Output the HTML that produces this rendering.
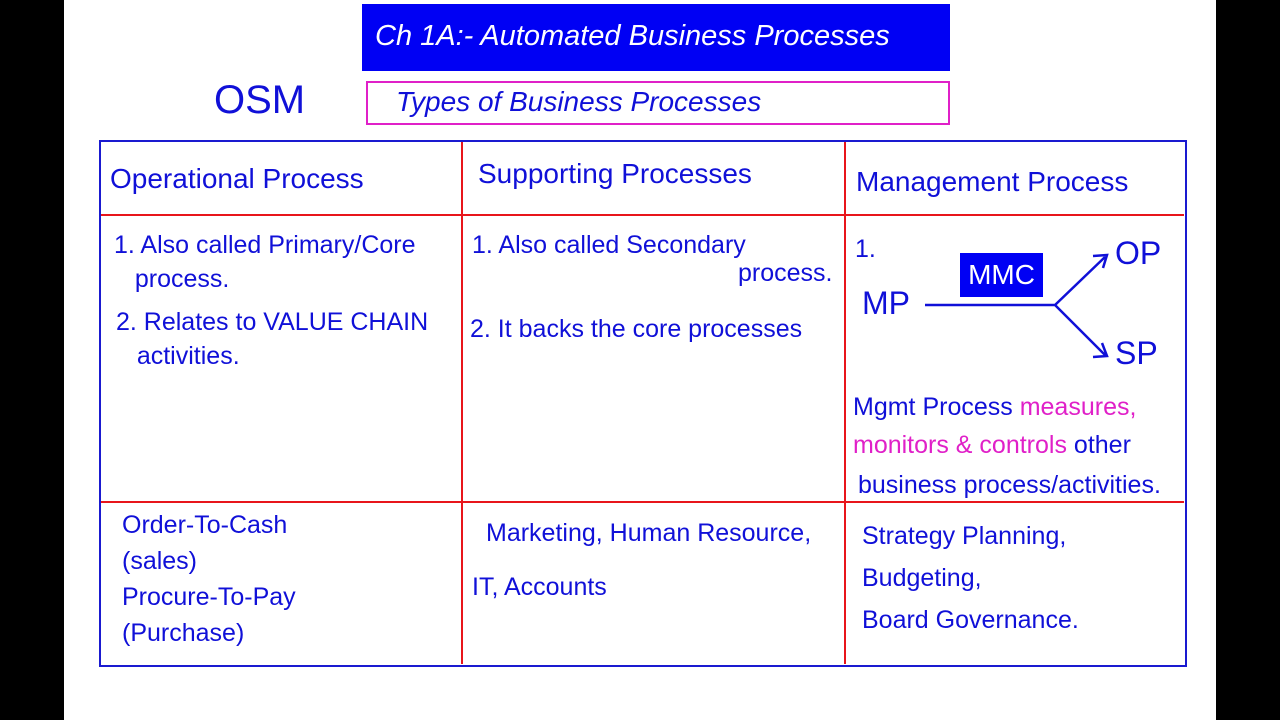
<!DOCTYPE html>
<html><head><meta charset="utf-8"><style>
body{margin:0;width:1280px;height:720px;background:#fff;position:relative;overflow:hidden;font-family:"Liberation Sans",sans-serif;color:#1010d8}
.a{position:absolute;white-space:nowrap}
.hl{position:absolute;background:#e8151b;height:2px}
.vl{position:absolute;background:#e8151b;width:2px}
.t{font-size:25px;line-height:34px}
.m{color:#e020c8}
</style></head><body>
<div class="a" style="left:0;top:0;width:64px;height:720px;background:#000"></div>
<div class="a" style="left:1216px;top:0;width:64px;height:720px;background:#000"></div>
<div class="a" style="left:362px;top:4px;width:588px;height:67px;background:#0000f4"></div>
<div class="a" style="left:375px;top:20px;font-size:29px;color:#fff;font-style:italic">Ch 1A:- Automated Business Processes</div>
<div class="a" style="left:366px;top:81px;width:580px;height:40px;border:2px solid #e020c8"></div>
<div class="a" style="left:396px;top:86px;font-size:28px;font-style:italic">Types of Business Processes</div>
<div class="a" style="left:214px;top:78px;font-size:40px">OSM</div>
<div class="a" style="left:99px;top:140px;width:1084px;height:523px;border:2px solid #1a1ad0"></div>
<div class="hl" style="left:101px;top:214px;width:1083px"></div>
<div class="hl" style="left:101px;top:501px;width:1083px"></div>
<div class="vl" style="left:461px;top:142px;height:522px"></div>
<div class="vl" style="left:844px;top:142px;height:522px"></div>
<div class="a" style="left:110px;top:163px;font-size:28px">Operational Process</div>
<div class="a" style="left:478px;top:158px;font-size:28px">Supporting Processes</div>
<div class="a" style="left:856px;top:166px;font-size:28px">Management Process</div>
<div class="a t" style="left:114px;top:228px">1. Also called Primary/Core<br>&nbsp;&nbsp;&nbsp;process.</div>
<div class="a t" style="left:116px;top:305px">2. Relates to VALUE CHAIN<br>&nbsp;&nbsp;&nbsp;activities.</div>
<div class="a t" style="left:472px;top:228px">1. Also called Secondary</div>
<div class="a t" style="left:738px;top:256px">process.</div>
<div class="a t" style="left:470px;top:312px">2. It backs the core processes</div>
<div class="a t" style="left:855px;top:232px">1.</div>
<div class="a" style="left:862px;top:285px;font-size:32px">MP</div>
<div class="a" style="left:960px;top:253px;width:83px;height:44px;background:#0000f4;color:#fff;font-size:28px;text-align:center;line-height:44px">MMC</div>
<svg class="a" style="left:0;top:0" width="1280" height="720"><g stroke="#1010d8" stroke-width="2.5" fill="none"><path d="M925 305 L1055 305 L1105 257 M1093 256 L1107 255 L1103 268 M1055 305 L1105 355 M1093 357 L1107 356 L1102 343"/></g></svg>
<div class="a" style="left:1115px;top:235px;font-size:32px">OP</div>
<div class="a" style="left:1115px;top:335px;font-size:32px">SP</div>
<div class="a t" style="left:853px;top:390px">Mgmt Process <span class="m">measures,</span></div>
<div class="a t" style="left:853px;top:428px"><span class="m">monitors &amp; controls</span> other</div>
<div class="a t" style="left:858px;top:468px">business process/activities.</div>
<div class="a t" style="left:122px;top:507px;line-height:36px">Order-To-Cash<br>(sales)<br>Procure-To-Pay<br>(Purchase)</div>
<div class="a t" style="left:486px;top:516px">Marketing, Human Resource,</div>
<div class="a t" style="left:472px;top:570px">IT, Accounts</div>
<div class="a t" style="left:862px;top:515px;line-height:42px">Strategy Planning,<br>Budgeting,<br>Board Governance.</div>
</body></html>
